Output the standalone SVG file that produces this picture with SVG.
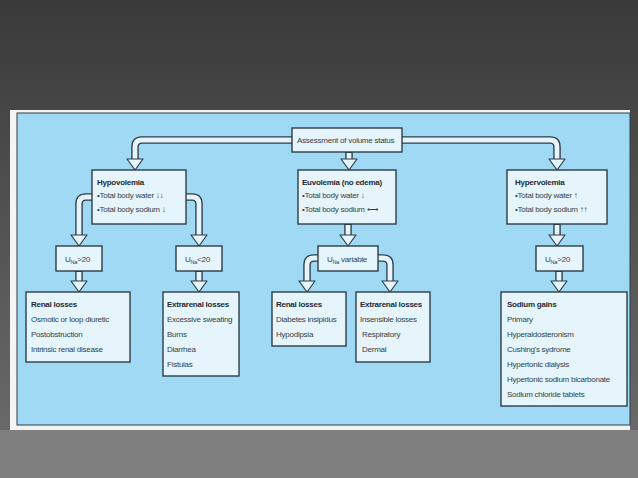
<svg xmlns="http://www.w3.org/2000/svg" width="638" height="478" viewBox="0 0 638 478">
<defs>
<linearGradient id="bg" x1="0" y1="0" x2="0" y2="1"><stop offset="0" stop-color="#3a3a3a"/><stop offset="1" stop-color="#6e6e6e"/></linearGradient>
<style>
.box{fill:#e6f4fb;stroke:#2e3d48;stroke-width:1.4}
.t{font-family:"Liberation Sans",Arial,sans-serif;font-size:8px;letter-spacing:-0.25px;fill:#333f48}
.b{font-weight:bold;fill:#1f2a33}
.so{fill:none;stroke:#2e3d48;stroke-width:7.5;stroke-linejoin:round}
.si{fill:none;stroke:#e6f4fb;stroke-width:4.8;stroke-linejoin:round}
.ah{fill:#e6f4fb;stroke:#2e3d48;stroke-width:1.2;stroke-linejoin:round}
</style>
</defs>
<rect width="638" height="478" fill="url(#bg)"/>
<rect x="0" y="430" width="638" height="48" fill="#7f7f7f"/>
<rect x="10" y="110" width="620" height="320" fill="#f4f4f4"/>
<rect x="17" y="113" width="613" height="312" fill="#9fd9f3" stroke="#2e3d48" stroke-width="1"/>
<g id="connectors">
<path class="so" d="M292,140 H142 Q135,140 135,147 V162 M402,140 H550 Q557,140 557,147 V162 M349,152 V162 M92,197 H86 Q79,197 79,204 V238 M186,197 H192 Q199,197 199,204 V238 M79,271 V284 M199,271 V284 M348,224 V238 M318,258 H314 Q307,258 307,265 V284 M378,258 H383 Q390,258 390,265 V284 M557,224 V238 M559,271 V284"/>
<path class="si" d="M292,140 H142 Q135,140 135,147 V163 M402,140 H550 Q557,140 557,147 V163 M349,153 V163 M93,197 H86 Q79,197 79,204 V239 M185,197 H192 Q199,197 199,204 V239 M79,272 V285 M199,272 V285 M348,225 V239 M319,258 H314 Q307,258 307,265 V285 M377,258 H383 Q390,258 390,265 V285 M557,225 V239 M559,272 V285"/>
<g class="ah">
<path d="M127,159 H143 L135,170 Z"/><path d="M549,159 H565 L557,170 Z"/><path d="M341,159 H357 L349,170 Z"/>
<path d="M71,235 H87 L79,246 Z"/><path d="M191,235 H207 L199,246 Z"/><path d="M340,235 H356 L348,246 Z"/><path d="M549,235 H565 L557,246 Z"/>
<path d="M71,281 H87 L79,292 Z"/><path d="M191,281 H207 L199,292 Z"/><path d="M299,281 H315 L307,292 Z"/><path d="M382,281 H398 L390,292 Z"/><path d="M551,281 H567 L559,292 Z"/>
</g>
</g>
<g id="assess"><rect class="box" x="292" y="128" width="110" height="24"/><text class="t" x="297" y="143">Assessment of volume status</text></g>
<g id="hypo"><rect class="box" x="92" y="170" width="94" height="54"/><text class="t" x="97" y="185"><tspan class="b">Hypovolemia</tspan><tspan x="97" dy="13">•Total body water ↓↓</tspan><tspan x="97" dy="14">•Total body sodium ↓</tspan></text></g>
<g id="euvo"><rect class="box" x="298" y="170" width="98" height="54"/><text class="t" x="302" y="185"><tspan class="b">Euvolemia (no edema)</tspan><tspan x="302" dy="13">•Total body water ↓</tspan><tspan x="302" dy="14">•Total body sodium ⟷</tspan></text></g>
<g id="hyper"><rect class="box" x="507" y="170" width="100" height="54"/><text class="t" x="515" y="185"><tspan class="b">Hypervolemia</tspan><tspan x="515" dy="13">•Total body water ↑</tspan><tspan x="515" dy="14">•Total body sodium ↑↑</tspan></text></g>
<g id="una1"><rect class="box" x="56" y="246" width="46" height="25"/><text class="t" x="65" y="262">U<tspan font-size="5.5" dy="2">Na</tspan><tspan dy="-2">&gt;20</tspan></text></g>
<g id="una2"><rect class="box" x="176" y="246" width="46" height="25"/><text class="t" x="185" y="262">U<tspan font-size="5.5" dy="2">Na</tspan><tspan dy="-2">&lt;20</tspan></text></g>
<g id="una3"><rect class="box" x="318" y="246" width="60" height="25"/><text class="t" x="327" y="262">U<tspan font-size="5.5" dy="2">Na</tspan><tspan dy="-2"> variable</tspan></text></g>
<g id="una4"><rect class="box" x="536" y="246" width="47" height="25"/><text class="t" x="545" y="262">U<tspan font-size="5.5" dy="2">Na</tspan><tspan dy="-2">&gt;20</tspan></text></g>
<g id="renal1"><rect class="box" x="26" y="292" width="104" height="70"/><text class="t" x="31" y="307"><tspan class="b">Renal losses</tspan><tspan x="31" dy="15">Osmotic or loop diuretic</tspan><tspan x="31" dy="15">Postobstruction</tspan><tspan x="31" dy="15">Intrinsic renal disease</tspan></text></g>
<g id="extra1"><rect class="box" x="163" y="292" width="76" height="84"/><text class="t" x="167" y="307"><tspan class="b">Extrarenal losses</tspan><tspan x="167" dy="15">Excessive sweating</tspan><tspan x="167" dy="15">Burns</tspan><tspan x="167" dy="15">Diarrhea</tspan><tspan x="167" dy="15">Fistulas</tspan></text></g>
<g id="renal2"><rect class="box" x="272" y="292" width="74" height="54"/><text class="t" x="276" y="307"><tspan class="b">Renal losses</tspan><tspan x="276" dy="15">Diabetes insipidus</tspan><tspan x="276" dy="15">Hypodipsia</tspan></text></g>
<g id="extra2"><rect class="box" x="356" y="292" width="74" height="70"/><text class="t" x="360" y="307"><tspan class="b">Extrarenal losses</tspan><tspan x="360" dy="15">Insensible losses</tspan><tspan x="362" dy="15">Respiratory</tspan><tspan x="362" dy="15">Dermal</tspan></text></g>
<g id="sodium"><rect class="box" x="501" y="292" width="126" height="114"/><text class="t" x="507" y="307"><tspan class="b">Sodium gains</tspan><tspan x="507" dy="15">Primary</tspan><tspan x="507" dy="15">Hyperaldosteronism</tspan><tspan x="507" dy="15">Cushing's sydrome</tspan><tspan x="507" dy="15">Hypertonic dialysis</tspan><tspan x="507" dy="15">Hypertonic sodium bicarbonate</tspan><tspan x="507" dy="15">Sodium chloride tablets</tspan></text></g>
</svg>
